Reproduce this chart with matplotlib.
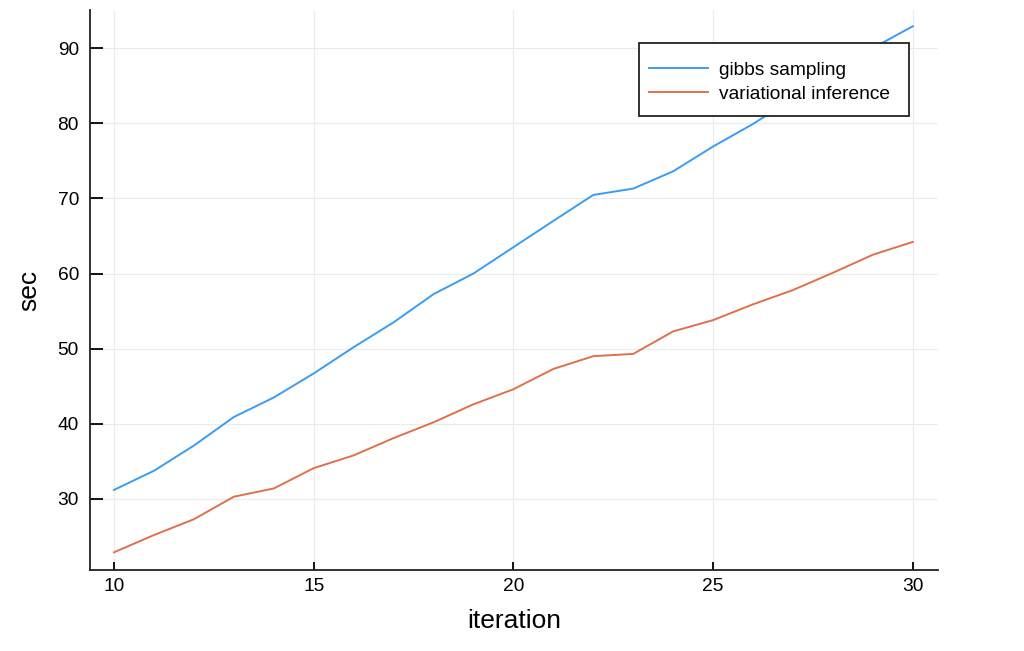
import matplotlib
matplotlib.use("Agg")
import matplotlib.pyplot as plt
from matplotlib.patches import Rectangle

plt.rcParams["font.family"] = ["Liberation Sans", "DejaVu Sans"]

# values
iterations = list(range(10, 31))
gibbs_sec = [31.2, 33.75, 37.1, 40.9, 43.5, 46.7, 50.2, 53.5, 57.25, 60.0,
             63.5, 67.0, 70.45, 71.3, 73.6, 76.9, 79.9, 83.3, 86.7, 90.0, 92.9]
vi_sec = [22.9, 25.2, 27.3, 30.3, 31.4, 34.1, 35.8, 38.1, 40.2, 42.6,
          44.6, 47.3, 49.0, 49.3, 52.3, 53.8, 55.9, 57.8, 60.1, 62.5, 64.2]

x_ticks = [10, 15, 20, 25, 30]
y_ticks = [30, 40, 50, 60, 70, 80, 90]

fig = plt.figure(figsize=(10.24, 6.51), dpi=100)
ax = fig.add_axes([90 / 1024, 1 - 570 / 651, 848 / 1024, 560 / 651])

ax.plot(iterations, gibbs_sec, color="#3a9cf2", linewidth=1.4, label="gibbs sampling")
ax.plot(iterations, vi_sec, color="#e0704c", linewidth=1.4, label="variational inference")

ax.set_xlim(9.40, 30.63)
ax.set_ylim(20.55, 95.06)
ax.set_xticks(x_ticks)
ax.set_yticks(y_ticks)
ax.grid(True, color="#ebebeb", linewidth=0.8)
ax.set_axisbelow(True)

for side in ("top", "right"):
    ax.spines[side].set_visible(False)
for side in ("left", "bottom"):
    ax.spines[side].set_linewidth(1.3)
    ax.spines[side].set_color("#222222")

ax.tick_params(axis="y", direction="in", length=9, width=1.3, labelsize=13.8, pad=8)
ax.tick_params(axis="x", direction="in", length=6, width=1.3, labelsize=13.8, pad=6)

ax.set_xlabel("iteration", fontsize=19, labelpad=10)
ax.set_ylabel("sec", fontsize=19, labelpad=12)

# legend frame is wider on the right than matplotlib's symmetric padding,
# so draw the box separately and put the entries inside it
frame = Rectangle((0.647, 0.811), 0.319, 0.130, transform=ax.transAxes,
                  facecolor="white", edgecolor="#222222", linewidth=1.3, zorder=5)
ax.add_patch(frame)
leg = ax.legend(loc="upper left", bbox_to_anchor=(0.659, 0.908), fontsize=13.8,
                frameon=False, borderaxespad=0, borderpad=0,
                handlelength=3.1, handletextpad=0.55, labelspacing=0.35)
leg.set_zorder(6)

fig.savefig("out.png", dpi=100)
plt.close(fig)
